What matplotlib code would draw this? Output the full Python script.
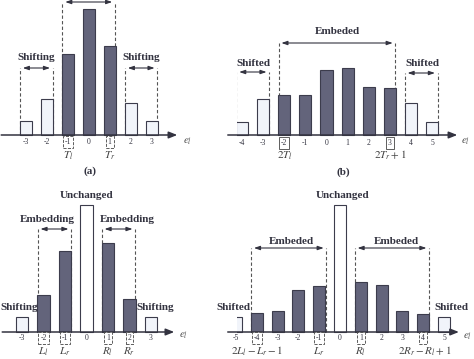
import matplotlib
matplotlib.use("Agg")
import matplotlib.pyplot as plt

plt.rcParams['font.family'] = ['Liberation Serif', 'DejaVu Serif']
plt.rcParams['mathtext.fontset'] = 'stix'

# histogram data for the four panels (bins, counts, bar type)
a_bins = [-3, -2, -1, 0, 1, 2, 3]
a_vals = [14, 36, 81, 126, 89, 32, 14]
a_kind = ['s', 's', 'e', 'e', 'e', 's', 's']

b_bins = [-4, -3, -2, -1, 0, 1, 2, 3, 4, 5]
b_vals = [13, 36, 40, 40, 65, 67, 48, 47, 32, 13]
b_kind = ['s', 's', 'e', 'e', 'e', 'e', 'e', 'e', 's', 's']

c_bins = [-3, -2, -1, 0, 1, 2, 3]
c_vals = [15, 37, 81, 127, 89, 33, 15]
c_kind = ['s', 'e', 'e', 'u', 'e', 'e', 's']

d_bins = [-5, -4, -3, -2, -1, 0, 1, 2, 3, 4, 5]
d_vals = [15, 19, 21, 42, 46, 127, 50, 47, 21, 18, 15]
d_kind = ['s', 'e', 'e', 'e', 'e', 'u', 'e', 'e', 'e', 'e', 's']

fills = {'s': '#f1f4fa', 'e': '#63647b', 'u': '#ffffff'}
DARK = '#333340'

fig = plt.figure(figsize=(4.74, 3.59), dpi=100)
W, H = 474.0, 359.0


def make_ax(x0, x1, y0, y1, bin0, sp, base):
    # axes covering a pixel region; x in bins, y in pixel units above baseline
    ax = fig.add_axes([x0 / W, 1 - y1 / H, (x1 - x0) / W, (y1 - y0) / H])
    ax.set_xlim((x0 - bin0) / sp, (x1 - bin0) / sp)
    ax.set_ylim(-(y1 - base), base - y0)
    ax.axis('off')
    return ax


def draw_bars(ax, bins, vals, kind):
    ax.bar(bins, vals, width=0.57, color=[fills[k] for k in kind],
           edgecolor='#3c3c4c', linewidth=0.8, zorder=2)


def axis_line(ax, x0, x1, ex, ey):
    ax.annotate('', xy=(x1, 0), xytext=(x0, 0),
                arrowprops=dict(arrowstyle='-|>,head_length=0.5,head_width=0.2',
                                lw=1.1, color=DARK), zorder=3)
    ax.text(ex, ey, r'$e_l$', fontsize=8, color='#555555', ha='center', va='center')


def ticks(ax, bins, boxed, ls='--', y=-7):
    for b in bins:
        kw = {}
        if b in boxed:
            kw['bbox'] = dict(boxstyle='square,pad=0.25', fc='white', ec='#444444',
                              lw=0.6, ls=ls)
        ax.text(b, y, str(b), fontsize=5.5, ha='center', va='center', color=DARK, **kw)


def bracket(ax, xl, xr, y, label=None, tx=None, ty=None):
    ax.plot([xl, xl], [0, y], ls=(0, (3, 2)), lw=0.8, color='#555555', zorder=1)
    ax.plot([xr, xr], [0, y], ls=(0, (3, 2)), lw=0.8, color='#555555', zorder=1)
    ax.annotate('', xy=(xr, y), xytext=(xl, y),
                arrowprops=dict(arrowstyle='<|-|>,head_length=0.35,head_width=0.12',
                                lw=0.8, color=DARK))
    if label:
        ax.text(tx, ty, label, fontsize=8, fontweight='bold', color=DARK,
                ha='center', va='center')


def bold(ax, x, y, s, size=8):
    ax.text(x, y, s, fontsize=size, fontweight='bold', color=DARK,
            ha='center', va='center')


def math(ax, x, y, s):
    ax.text(x, y, s, fontsize=8, color='#444444', ha='center', va='baseline')


# (a)
ax = make_ax(0, 237, 0, 180, 88.7, 21.0, 135)
draw_bars(ax, a_bins, a_vals, a_kind)
axis_line(ax, -4.3, 4.35, 4.7, -7)
ticks(ax, a_bins, [-1, 1])
bracket(ax, -1.25, 1.25, 133)
bracket(ax, -3.27, -1.71, 67, 'Shifting', -2.48, 78)
bracket(ax, 1.73, 3.27, 67, 'Shifting', 2.51, 78)
math(ax, -1, -24, r'$T_l$')
math(ax, 1, -24, r'$T_r$')
bold(ax, 0.06, -36, '(a)', 8)

# (b)
ax = make_ax(237, 474, 0, 180, 326.5, 21.1, 135)
draw_bars(ax, b_bins, b_vals, b_kind)
axis_line(ax, -4.81, 6.33, 6.6, -7)
ticks(ax, b_bins, [-2, 3], ls='-', y=-8)
bracket(ax, -2.27, 3.27, 92, 'Embeded', 0.52, 103)
bracket(ax, -4.27, -2.71, 63, 'Shifted', -3.44, 72)
bracket(ax, 3.71, 5.27, 62, 'Shifted', 4.57, 71)
math(ax, -1.97, -24, r'$2T_l$')
math(ax, 3.0, -24, r'$2T_r+1$')
bold(ax, 0.78, -37, '(b)', 8)

# (c)
ax = make_ax(0, 237, 180, 359, 86.5, 21.5, 332)
draw_bars(ax, c_bins, c_vals, c_kind)
axis_line(ax, -4.05, 4.21, 4.5, -4)
ticks(ax, c_bins, [-2, -1, 1, 2], y=-6)
bold(ax, 0, 136, 'Unchanged')
bracket(ax, -2.27, -0.71, 103, 'Embedding', -1.81, 112)
bracket(ax, 0.71, 2.27, 103, 'Embedding', 1.9, 112)
bold(ax, -3.14, 25, 'Shifting')
bold(ax, 3.19, 25, 'Shifting')
math(ax, -2, -23, r'$L_l$')
math(ax, -1, -23, r'$L_r$')
math(ax, 1, -23, r'$R_l$')
math(ax, 2, -23, r'$R_r$')

# (d)
ax = make_ax(237, 474, 180, 359, 340.0, 20.8, 332)
draw_bars(ax, d_bins, d_vals, d_kind)
axis_line(ax, -5.53, 5.85, 6.12, -5)
ticks(ax, d_bins, [-4, -1, 1, 4], y=-6)
bold(ax, 0.1, 136, 'Unchanged')
bracket(ax, -4.27, -0.65, 84, 'Embeded', -2.36, 91)
bracket(ax, 0.71, 4.29, 84, 'Embeded', 2.7, 91)
bold(ax, -5.1, 24, 'Shifted')
bold(ax, 5.36, 24, 'Shifted')
math(ax, -3.99, -23, r'$2L_l-L_r-1$')
math(ax, -1, -23, r'$L_r$')
math(ax, 1, -23, r'$R_l$')
math(ax, 4.05, -23, r'$2R_r-R_l+1$')

fig.savefig('out.png', dpi=100)
